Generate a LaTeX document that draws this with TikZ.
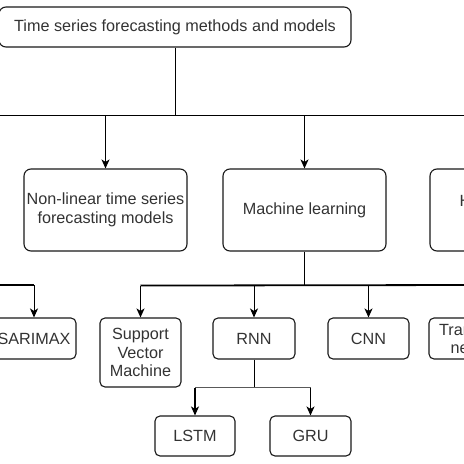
\documentclass[tikz,border=0pt]{standalone}
\usepackage{fontspec}
\setmainfont{Liberation Sans}
\usetikzlibrary{arrows.meta}
\begin{document}
\begin{tikzpicture}[x=1pt,y=-1pt,
  box/.style={draw=black!90, line width=1.1pt, rounded corners=7pt, align=center,
    text=black!80, font=\fontsize{16.2}{18.5}\selectfont, inner sep=0pt},
  sbox/.style={box, rounded corners=5pt},
  conn/.style={draw=black, line width=1pt},
  bold/.style={draw=black, line width=1.8pt},
  arr/.style={-{Stealth[length=9pt,width=8pt,inset=2.5pt]}},
]
\useasboundingbox (0,0) rectangle (464,464);
\clip (0,0) rectangle (464,464);
\fill[white] (0,0) rectangle (464,464);

% boxes
\node[box, minimum width=352pt, minimum height=40pt] (top) at (175,27) {Time series forecasting methods and models};
\node[box, minimum width=163pt, minimum height=82pt] (nonlin) at (105.5,210) {Non-linear time series\\forecasting models};
\node[box, minimum width=163pt, minimum height=82pt] (ml) at (304.5,210) {Machine learning};
\node[box, minimum width=163pt, minimum height=82pt] (hyb) at (511.5,210) {Hybrid models\\\mbox{}};

\node[sbox, minimum width=84pt, minimum height=41pt] (sarimax) at (34,338.5) {SARIMAX};
\node[sbox, minimum width=81pt, minimum height=69pt] (svm) at (140.5,352.5) {Support\\Vector\\Machine};
\node[sbox, minimum width=82pt, minimum height=41pt] (rnn) at (254,338.5) {RNN};
\node[sbox, minimum width=81pt, minimum height=41pt] (cnn) at (368.5,338.5) {CNN};
\node[sbox, minimum width=108pt, minimum height=41pt] (trans) at (483,338.5) {Transformer\\networks};
\node[sbox, minimum width=80pt, minimum height=40pt] (lstm) at (195,436) {LSTM};
\node[sbox, minimum width=81pt, minimum height=40pt] (gru) at (310.5,436) {GRU};

% level 1 bus
\coordinate (j1) at (175,115);
\coordinate (j1L) at (-10,115);
\coordinate (j1R) at (474,115);
\draw[conn] (top.south) -- (j1);
\draw[conn] (j1L) -- (j1R);
\draw[conn,arr] (nonlin.north |- j1) -- (nonlin.north);
\draw[bold,arr] (ml.north |- j1) -- (ml.north);

% level 2 bus
\path (ml.south) ++(0,34) coordinate (j2);
\coordinate (j2L) at (-10,285);
\coordinate (j2R) at (474,285);
\draw[bold] (ml.south) -- (j2);
\draw[bold] (svm.north |- j2) -- (j2R);
\draw[bold] (j2L) -- (sarimax.north |- j2L);
\draw[conn,arr] (sarimax.north |- j2L) -- (sarimax.north);
\draw[bold,arr] (svm.north |- j2) -- (svm.north);
\draw[conn,arr] (rnn.north |- j2) -- (rnn.north);
\draw[conn,arr] (cnn.north |- j2) -- (cnn.north);
\draw[conn,arr] (trans.north |- j2) -- (trans.north);

% level 3 bus
\path (rnn.south) ++(0,28) coordinate (j3);
\draw[conn] (rnn.south) -- (j3);
\draw[bold, draw=black!65] (lstm.north |- j3) -- (gru.north |- j3);
\draw[bold,arr] (lstm.north |- j3) -- (lstm.north);
\draw[conn,arr] (gru.north |- j3) -- (gru.north);
\end{tikzpicture}
\end{document}
